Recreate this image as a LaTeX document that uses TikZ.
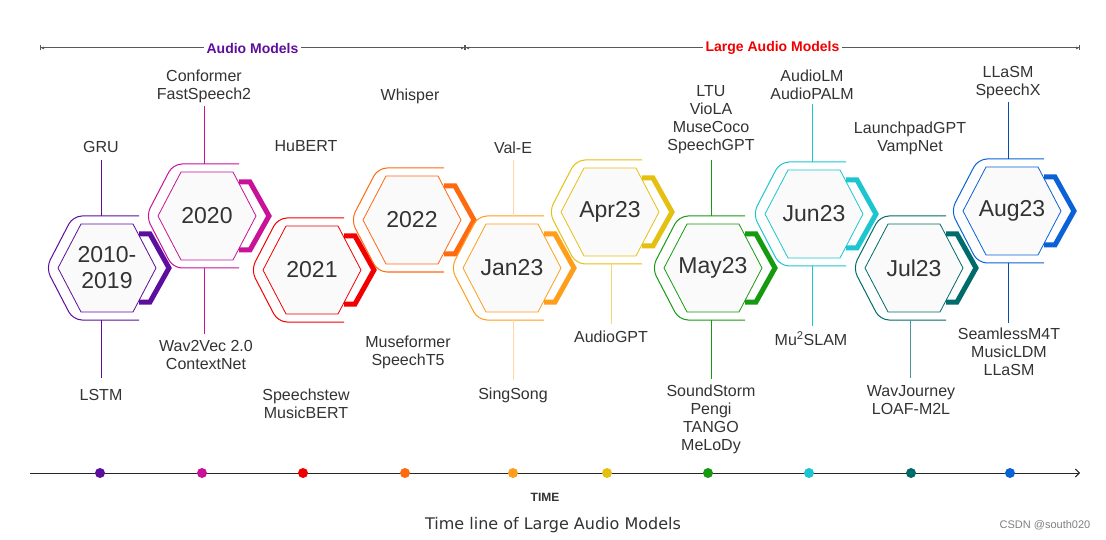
\documentclass[tikz,border=0pt]{standalone}
\usepackage{fontspec}
\setmainfont{Liberation Sans}
\newfontfamily\dvs{DejaVu Sans}
\usetikzlibrary{arrows.meta,calc}
\definecolor{c1}{HTML}{5E0E9E}
\definecolor{c2}{HTML}{C8129A}
\definecolor{c3}{HTML}{F20000}
\definecolor{c4}{HTML}{FF6A10}
\definecolor{c5}{HTML}{FF9E1A}
\definecolor{c6}{HTML}{E6C010}
\definecolor{c7}{HTML}{159A10}
\definecolor{c8}{HTML}{1CC6D0}
\definecolor{c9}{HTML}{006B6B}
\definecolor{c10}{HTML}{0A62D6}
\definecolor{txt}{HTML}{333333}
\tikzset{lbl/.style={font=\fontsize{16}{18}\selectfont,text=txt,align=center,inner sep=1pt},
yr/.style={font=\fontsize{23}{26}\selectfont,text=txt,align=center},
stem/.style={line width=0.8pt}}
\newcommand{\hexu}[5]{%
\begin{scope}[shift={(#1,#2)}]
\draw[#3,line width=1pt,rounded corners=9pt] (32,-52)--(-34,-52)--(-61,0)--(-34,52)--(32,52);
\draw[#3,line width=0.8pt,fill=white!96!gray] (-49,0)--(-26,-44)--(26,-44)--(49,0)--(26,44)--(-26,44)--cycle;
\draw[#3,line width=5pt] (32,-34)--(43,-34)--(62,0)--(43,34)--(32,34);
\node[yr] (#5) at (0,0) {#4};
\coordinate (#5t) at (0,-52);
\coordinate (#5b) at (0,52);
\end{scope}}
\begin{document}
\begin{tikzpicture}[x=1pt,y=-1pt]
\useasboundingbox (0,0) rectangle (1106,540);
\fill[white] (0,0) rectangle (1106,540);
% top ranges
\coordinate (a0) at (40,48); \coordinate (a1) at (465,48); \coordinate (a2) at (1080,48);
\draw[gray!70!black,line width=1pt,{Bar[width=5pt]Latex[length=3pt,width=3pt]}-{Latex[length=3pt,width=3pt]Bar[width=5pt]}] (a0)--(a1)
 node[midway,fill=white,text=c1,font=\bfseries\fontsize{14}{16}\selectfont,inner sep=3pt] (am) {Audio Models};
\draw[gray!70!black,line width=1pt,{Bar[width=5pt]Latex[length=3pt,width=3pt]}-{Latex[length=3pt,width=3pt]Bar[width=5pt]}] (a1)--(a2)
 node[pos=0.5,fill=white,text=c3,font=\bfseries\fontsize{14}{16}\selectfont,inner sep=3pt] (lm) {Large Audio Models};
% hexagons
\hexu{107}{268}{c1}{2010-\\2019}{h1}
\hexu{207}{216}{c2}{2020}{h2}
\hexu{312}{270}{c3}{2021}{h3}
\hexu{412}{220}{c4}{2022}{h4}
\hexu{512}{268}{c5}{Jan23}{h5}
\hexu{610}{212}{c6}{Apr23}{h6}
\hexu{713}{268}{c7}{May23}{h7}
\hexu{814}{214}{c8}{Jun23}{h8}
\hexu{914}{268}{c9}{Jul23}{h9}
\hexu{1012}{211}{c10}{Aug23}{h10}
% labels
\node[lbl] (l1a) at (101,147) {GRU};
\node[lbl] (l1b) at (101,395) {LSTM};
\draw[c1,stem] (101,160)--(101,216);
\draw[c1,stem] (101,320)--(101,378);
\node[lbl] (l2a) at (204,86) {Conformer\\FastSpeech2};
\node[lbl] (l2b) at (206,355) {Wav2Vec 2.0\\ContextNet};
\draw[c2,stem] (204,106)--(204,164);
\draw[c2,stem] (204,268)--(204,334);
\node[lbl] (l3a) at (306,146) {HuBERT};
\node[lbl] (l3b) at (306,404) {Speechstew\\MusicBERT};
\node[lbl] (l4a) at (410,96) {Whisper};
\node[lbl] (l4b) at (408,352) {Museformer\\SpeechT5};
\node[lbl] (l5a) at (513,148) {Val-E};
\node[lbl] (l5b) at (513,395) {SingSong};
\draw[c5!40,stem] (513,160)--(513,216);
\draw[c5!40,stem] (513,320)--(513,380);
\node[lbl] (l6b) at (611,337) {AudioGPT};
\draw[c6!60,stem] (611,264)--(611,324);
\node[lbl] (l7a) at (711,120) {LTU\\VioLA\\MuseCoco\\SpeechGPT};
\node[lbl] (l7b) at (711,419) {SoundStorm\\Pengi\\TANGO\\MeLoDy};
\draw[c7,stem] (711,160)--(711,216);
\draw[c7,stem] (711,320)--(711,379);
\node[lbl] (l8a) at (812,85) {AudioLM\\AudioPALM};
\node[lbl] (l8b) at (811,339) {Mu\textsuperscript{2}SLAM};
\draw[c8,stem] (812,104)--(812,162);
\draw[c8,stem] (812,266)--(812,326);
\node[lbl] (l9a) at (910,138) {LaunchpadGPT\\VampNet};
\node[lbl] (l9b) at (911,400) {WavJourney\\LOAF-M2L};
\draw[c9!70,stem] (910,320)--(910,378);
\node[lbl] (l10a) at (1008,83) {LLaSM\\SpeechX};
\node[lbl] (l10b) at (1009,352) {SeamlessM4T\\MusicLDM\\LLaSM};
\draw[c10!80!black,stem] (1008,102)--(1008,159);
\draw[c10!80!black,stem] (1008,263)--(1008,323);
% timeline
\coordinate (t0) at (30,473); \coordinate (t1) at (1080,473);
\draw[gray!30!black,line width=1pt,-{Straight Barb[length=4pt]}] (t0)--(t1);
\foreach \x/\c in {100/c1,202/c2,303/c3,405/c4,513/c5,607/c6,708/c7,809/c8,911/c9,1010/c10}
  \fill[\c] (\x,473) circle (5pt);
\node[font=\bfseries\fontsize{12}{14}\selectfont,text=txt] (time) at (545,497) {TIME};
\node[font={\dvs\fontsize{16}{19}\selectfont},text=txt] (cap) at (553,525) {Time line of Large Audio Models};
\node[font=\fontsize{11}{13}\selectfont,text=gray] (wm) at (1045,525) {CSDN @south020};
\end{tikzpicture}
\end{document}
